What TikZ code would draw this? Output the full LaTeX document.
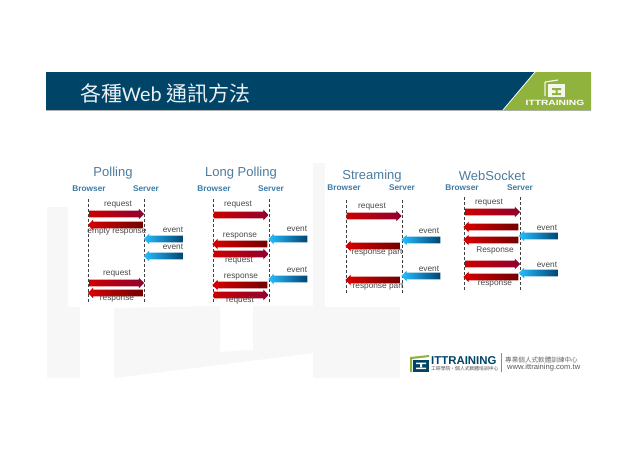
\documentclass[tikz,border=0pt]{standalone}
\usepackage{fontspec}
\usepackage{xcolor}
\usetikzlibrary{shapes.arrows}
\setmainfont{Liberation Sans}
\newfontfamily\cjk{Noto Sans CJK TC}
\newfontfamily\latin{Carlito}
\definecolor{barblue}{HTML}{004468}
\definecolor{logogreen}{HTML}{8FB33C}
\definecolor{titleblue}{HTML}{4B7C9E}
\definecolor{headblue}{HTML}{3D7CA6}
\definecolor{labelgray}{HTML}{4A4A4A}
\definecolor{ghost}{HTML}{F7F7F7}
\tikzset{
  msg/.style={single arrow, inner sep=0pt, text height=6.4pt, text depth=0pt, text width=0pt,
    minimum height=55pt, single arrow head extend=2pt, single arrow head indent=0pt},
  toserver/.style={msg, xshift=-1.5pt, left color=red!80!black, right color=purple!75!black},
  toclient/.style={msg, xshift=0.5pt, shape border rotate=180, left color=red!85!black, right color=red!45!black},
  evt/.style={msg, xshift=1pt, shape border rotate=180, minimum height=39pt,
    left color=cyan!70!blue!85!white, right color=blue!40!cyan!45!black},
  lbl/.style={inner sep=0pt, font=\fontsize{8.3}{9}\selectfont, text=labelgray},
  head/.style={inner sep=0pt, font=\bfseries\fontsize{8.3}{9}\selectfont, text=headblue},
  ttl/.style={inner sep=0pt, font=\fontsize{13}{14}\selectfont, text=titleblue},
  life/.style={densely dashed, line width=0.9pt, black!75}
}
\begin{document}
\begin{tikzpicture}[x=1pt, y=-1pt]
	\useasboundingbox (0,0) rectangle (638,451);
	\fill[white] (0,0) rectangle (638,451);
	% faint backdrop
	\fill[ghost] (47,207) rectangle (68,378);
	\fill[ghost] (68,307) rectangle (80,378);
	\fill[ghost] (114,308) -- (220,306) -- (220,352) -- (253,350) -- (253,306) -- (313,306) -- (313,353) -- (114,378) -- cycle;
	\fill[ghost] (313,307) rectangle (400,378);
	\fill[ghost] (313,163) rectangle (325,307);
	% header bar
	\fill[barblue] (46,72) rectangle (591,110);
	\fill[black!30] (46,110) rectangle (591,111);
	\fill[logogreen] (503,110) -- (535,72) -- (591,72) -- (591,110) -- cycle;
	\draw[white, line width=0.8pt] (503,110) -- (535,72);
	\node[inner sep=0pt, anchor=west, text=white!92!barblue] (pagetitle) at (80,93)
	  {\fontsize{21}{23}\selectfont\cjk 各種\latin Web \cjk 通訊方法};
	% logo in the bar
	\draw[white!85!logogreen, line width=1.2pt] (545,82) -- (558,80) (545,82) -- (545,96);
	\fill[white!90!logogreen] (548,84) rectangle (565,97);
	\fill[logogreen] (552,88) rectangle (561,90) (555.5,90) rectangle (557.5,93) (552,93) rectangle (561,95);
	\node[inner sep=0pt, text=white, xscale=1.35] (barlogo) at (555,103) {\bfseries\fontsize{7.6}{8}\selectfont ITTRAINING};
	% Polling
	\node[ttl] (polltitle) at (113,173) {Polling};
	\node[head] (pollbrowser) at (89,189) {Browser};
	\node[head] (pollserver) at (146,189) {Server};
	\coordinate (pollb1) at (88.5,199); \coordinate (pollb2) at (88.5,303);
	\coordinate (polls1) at (144.5,199); \coordinate (polls2) at (144.5,303);
	\draw[life] (pollb1) -- (pollb2);
	\draw[life] (polls1) -- (polls2);
	\foreach \y/\n in {214/a,283/b} \node[toserver] (pollreq\n) at (116.5,\y) {};
	\foreach \y/\n in {225/a,293/b} \node[toclient] (pollres\n) at (116.5,\y) {};
	\foreach \y/\n in {239/a,256/b} \node[evt] (pollevt\n) at (164,\y) {};
	\foreach \x/\y/\t/\n in {118/205/request/a,117/232/empty response/b,117/274/request/c,117/299/response/d,173/230/event/e,173/247/event/f}
	  \node[lbl] (polllbl\n) at (\x,\y) {\t};
	% Long Polling
	\node[ttl] (longtitle) at (241,173) {Long Polling};
	\node[head] (longbrowser) at (214,189) {Browser};
	\node[head] (longserver) at (271,189) {Server};
	\coordinate (longb1) at (213,199); \coordinate (longb2) at (213,303);
	\coordinate (longs1) at (269,199); \coordinate (longs2) at (269,303);
	\draw[life] (longb1) -- (longb2);
	\draw[life] (longs1) -- (longs2);
	\foreach \y/\n in {215/a,254/b,295/c} \node[toserver] (longreq\n) at (241,\y) {};
	\foreach \y/\n in {244/a,285/b} \node[toclient] (longres\n) at (241,\y) {};
	\foreach \y/\n in {239/a,279/b} \node[evt] (longevt\n) at (288.5,\y) {};
	\foreach \x/\y/\t/\n in {238/205/request/a,240/236/response/b,239/261/request/c,241/277/response/d,240/301/request/e,297/229/event/f,297/270/event/g}
	  \node[lbl] (longlbl\n) at (\x,\y) {\t};
	% Streaming
	\node[ttl] (strmtitle) at (372,176) {Streaming};
	\node[head] (strmbrowser) at (344,188) {Browser};
	\node[head] (strmserver) at (402,188) {Server};
	\coordinate (strmb1) at (346,200); \coordinate (strmb2) at (346,294);
	\coordinate (strms1) at (402,200); \coordinate (strms2) at (402,294);
	\draw[life] (strmb1) -- (strmb2);
	\draw[life] (strms1) -- (strms2);
	\node[toserver] (strmreq) at (374,216) {};
	\foreach \y/\n in {246/a,280/b} \node[toclient] (strmres\n) at (374,\y) {};
	\foreach \y/\n in {240/a,276/b} \node[evt] (strmevt\n) at (421.5,\y) {};
	\foreach \x/\y/\t/\n in {372/207/request/a,429/231/event/b,377/253/response part/c,429/269/event/d,378/287/response part/e}
	  \node[lbl] (strmlbl\n) at (\x,\y) {\t};
	% WebSocket
	\node[ttl] (socktitle) at (492,176) {WebSocket};
	\node[head] (sockbrowser) at (462,188) {Browser};
	\node[head] (sockserver) at (520,188) {Server};
	\coordinate (sockb1) at (464,197); \coordinate (sockb2) at (464,290);
	\coordinate (socks1) at (520,197); \coordinate (socks2) at (520,290);
	\draw[life] (sockb1) -- (sockb2);
	\draw[life] (socks1) -- (socks2);
	\foreach \y/\n in {212/a,264/b} \node[toserver] (sockreq\n) at (492.5,\y) {};
	\foreach \y/\n in {227/a,240/b,277/c} \node[toclient] (sockres\n) at (492,\y) {};
	\foreach \y/\n in {236/a,273/b} \node[evt] (sockevt\n) at (539,\y) {};
	\foreach \x/\y/\t/\n in {489/203/request/a,547/228/event/b,495/250/Response/c,547/265/event/d,495/284/response/e}
	  \node[lbl] (socklbl\n) at (\x,\y) {\t};
	% footer logo
	\fill[logogreen] (410,357) -- (429,355) -- (429,357) -- (412,359) -- (412,372) -- (410,372) -- cycle;
	\fill[barblue] (413,360) rectangle (429,372);
	\fill[white] (416,362.5) rectangle (426,364) (420,364) rectangle (422,367) (416,367.5) rectangle (426,369);
	\node[inner sep=0pt, anchor=west, text=barblue] (footname) at (431,361)
	  {\bfseries\fontsize{11.4}{12}\selectfont ITTRAINING};
	\node[inner sep=0pt, anchor=west, text=black!70] (footsub) at (431,369)
	  {\fontsize{4.8}{5}\selectfont\cjk 工研學院‧個人式軟體培訓中心};
	\coordinate (footbar1) at (501,353); \coordinate (footbar2) at (501,372);
	\draw[black!45, line width=0.6pt] (footbar1) -- (footbar2);
	\node[inner sep=0pt, anchor=west, text=black!60] (footcn) at (505,360)
	  {\fontsize{6.6}{7}\selectfont\cjk 專業個人式軟體訓練中心};
	\node[inner sep=0pt, anchor=west, text=black!65] (footurl) at (507,368)
	  {\fontsize{7.6}{8}\selectfont www.ittraining.com.tw};
\end{tikzpicture}
\end{document}
